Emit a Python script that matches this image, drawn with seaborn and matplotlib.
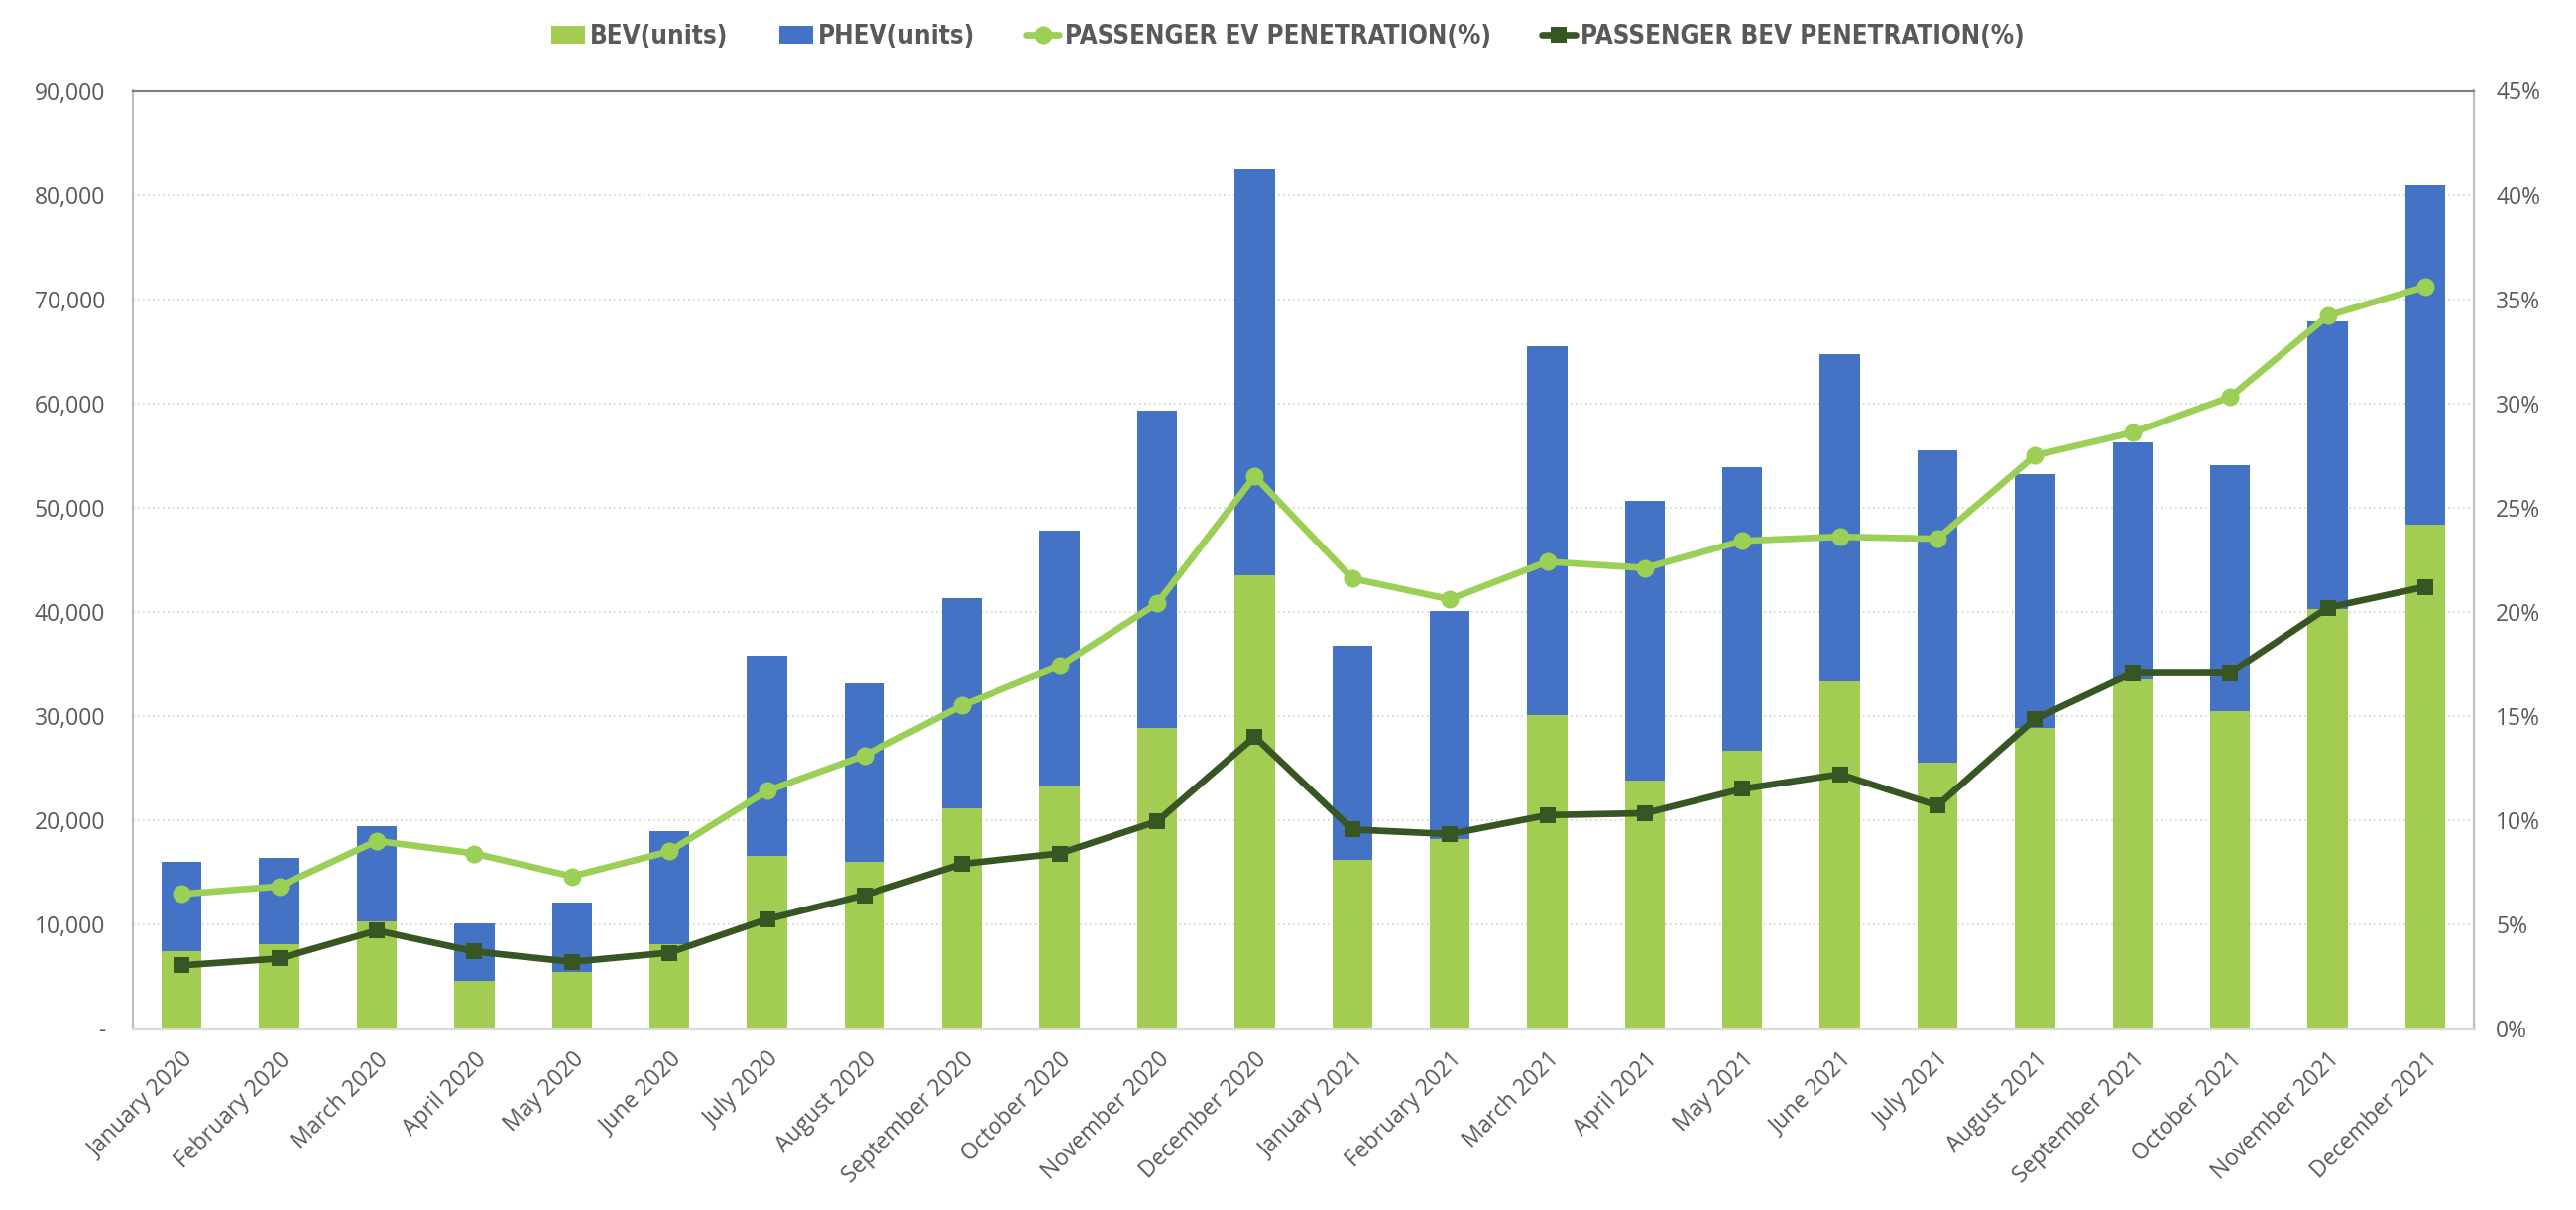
import numpy as np
import pandas as pd
import matplotlib
matplotlib.use("Agg")
import matplotlib.pyplot as plt
import seaborn as sns
from matplotlib import font_manager
from matplotlib.font_manager import FontProperties
from matplotlib.lines import Line2D
from matplotlib.patches import Patch
from matplotlib.ticker import FuncFormatter, MultipleLocator

# ---- data ----
months = [
    "January 2020", "February 2020", "March 2020", "April 2020", "May 2020", "June 2020",
    "July 2020", "August 2020", "September 2020", "October 2020", "November 2020", "December 2020",
    "January 2021", "February 2021", "March 2021", "April 2021", "May 2021", "June 2021",
    "July 2021", "August 2021", "September 2021", "October 2021", "November 2021", "December 2021",
]
bev_units = [7450, 8060, 10300, 4600, 5450, 8060, 16600, 16000, 21100, 23200, 28800, 43500,
             16200, 18200, 30100, 23800, 26700, 33300, 25500, 28800, 33500, 30500, 40300, 48400]
phev_units = [8550, 8340, 9150, 5500, 6650, 10840, 19200, 17100, 20200, 24600, 30500, 39000,
              20500, 21900, 35400, 26800, 27200, 31400, 30000, 24400, 22800, 23600, 27600, 32500]
ev_penetration = [6.45, 6.82, 9.0, 8.4, 7.3, 8.5, 11.4, 13.1, 15.5, 17.4, 20.4, 26.5,
                  21.6, 20.6, 22.4, 22.1, 23.4, 23.6, 23.5, 27.5, 28.6, 30.3, 34.2, 35.6]
bev_penetration = [3.03, 3.36, 4.7, 3.7, 3.2, 3.64, 5.24, 6.4, 7.9, 8.4, 9.94, 14.0,
                   9.55, 9.33, 10.24, 10.33, 11.5, 12.2, 10.7, 14.85, 17.06, 17.06, 20.2, 21.2]

df = pd.DataFrame({
    "month": months,
    "bev": bev_units,
    "phev": phev_units,
    "ev_pen": ev_penetration,
    "bev_pen": bev_penetration,
})
df["total"] = df["bev"] + df["phev"]
df["pos"] = np.arange(len(df))

# ---- style ----
sns.set_style("white")
plt.rcParams["font.family"] = ["Open Sans", "DejaVu Sans"]

# narrow bold face for the legend if one is around
names = {f.name for f in font_manager.fontManager.ttflist}
legend_prop = {"family": "DejaVu Sans", "weight": "bold", "size": 17}
if "Liberation Sans Narrow" in names:
    legend_prop = {"family": "Liberation Sans Narrow", "weight": "bold", "size": 21}
else:
    cond = font_manager.findfont(FontProperties(family="DejaVu Sans", weight="bold", stretch="condensed"))
    if "Condensed" in cond:
        legend_prop = {"family": "DejaVu Sans", "weight": "bold", "stretch": "condensed", "size": 18.6}

GREEN = "#A2CD52"
BLUE = "#4472C4"
LINE_LIGHT = "#9BCF55"
LINE_DARK = "#375623"
TXT = "#595959"

fig, ax = plt.subplots(figsize=(25.98, 12.2), dpi=100)
fig.subplots_adjust(left=0.0516, right=0.9604, top=0.925, bottom=0.15)

# stacked bars: total (blue) then BEV (green) over it
sns.barplot(data=df, x="month", y="total", color=BLUE, width=0.41, saturation=1,
            linewidth=0, edgecolor="none", ax=ax)
sns.barplot(data=df, x="month", y="bev", color=GREEN, width=0.41, saturation=1,
            linewidth=0, edgecolor="none", ax=ax)

ax.set_ylim(0, 90000)
ax.yaxis.set_major_locator(MultipleLocator(10000))
ax.yaxis.set_major_formatter(FuncFormatter(lambda v, p: "-" if v == 0 else f"{v:,.0f}"))
ax.set_axisbelow(True)
ax.yaxis.grid(True, linestyle=(0, (1, 2)), color="#D0D0D0", linewidth=1.2)
ax.set_xlabel("")
ax.set_ylabel("")

# penetration lines on the secondary axis
ax2 = ax.twinx()
sns.lineplot(data=df, x="pos", y="ev_pen", color=LINE_LIGHT, linewidth=4.8,
             marker="o", markersize=13, markeredgewidth=0, ax=ax2)
sns.lineplot(data=df, x="pos", y="bev_pen", color=LINE_DARK, linewidth=4.8,
             marker="s", markersize=12, markeredgewidth=0, ax=ax2)
ax2.set_ylim(0, 45)
ax2.yaxis.set_major_locator(MultipleLocator(5))
ax2.yaxis.set_major_formatter(FuncFormatter(lambda v, p: f"{v:.0f}%"))
ax2.set_xlabel("")
ax2.set_ylabel("")
ax.set_xlim(-0.5, len(months) - 0.5)

# ticks
ax.set_xticks(df["pos"])
ax.set_xticklabels(months, rotation=45, ha="right", rotation_mode="anchor")
ax.set_xticks(np.arange(-0.5, len(months), 1), minor=True)
ax.tick_params(axis="x", which="major", length=0, pad=14, labelsize=16.5, labelcolor=TXT)
ax.tick_params(axis="x", which="minor", direction="in", length=8, width=1.5, color="#D9D9D9")
ax.tick_params(axis="y", length=0, pad=20, labelsize=16.5, labelcolor=TXT)
ax2.tick_params(axis="y", length=0, pad=16, labelsize=16.5, labelcolor=TXT)

# frame
for a in (ax, ax2):
    a.spines["left"].set_color("#BFBFBF")
    a.spines["left"].set_linewidth(1.5)
    a.spines["right"].set_color("#BFBFBF")
    a.spines["right"].set_linewidth(1.5)
    a.spines["bottom"].set_color("#D9D9D9")
    a.spines["bottom"].set_linewidth(2.2)
    a.spines["top"].set_color("#7F7F7F")
    a.spines["top"].set_linewidth(1.5)

# legend
handles = [
    Patch(facecolor=GREEN, edgecolor="none"),
    Patch(facecolor=BLUE, edgecolor="none"),
    Line2D([0], [0], color=LINE_LIGHT, linewidth=4.8, marker="o", markersize=13, markeredgewidth=0),
    Line2D([0], [0], color=LINE_DARK, linewidth=4.8, marker="s", markersize=12, markeredgewidth=0),
]
labels = ["BEV(units)", "PHEV(units)", "PASSENGER EV PENETRATION(%)", "PASSENGER BEV PENETRATION(%)"]
leg = fig.legend(handles, labels, loc="center", bbox_to_anchor=(0.5, 0.97), ncol=4,
                 frameon=False, handlelength=1.3, handletextpad=0.2, columnspacing=2.0,
                 prop=legend_prop)
for t in leg.get_texts():
    t.set_color(TXT)

plt.savefig("out.png", dpi=100)
